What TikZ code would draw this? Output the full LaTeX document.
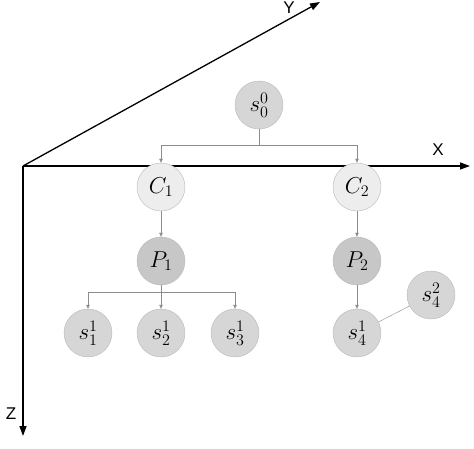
\RequirePackage{fix-cm}
\documentclass[tikz,border=0pt]{standalone}
\usepackage{amsmath, amssymb}
\usepackage{fontspec}
\newfontfamily\axisfont{Liberation Sans}
\usetikzlibrary{arrows.meta}

\begin{document}
\begin{tikzpicture}[x=1pt,y=-1pt,
    every node/.style={font=\fontsize{23}{25}\selectfont},
    vertex/.style={circle, draw=black!28, minimum size=48pt, inner sep=0pt},
    cnode/.style={vertex, fill=black!7},
    pnode/.style={vertex, fill=black!22},
    snode/.style={vertex, fill=black!16},
    axis/.style={-{Triangle[length=10pt,width=7pt]}, line width=1.3pt},
    axlabel/.style={font=\axisfont\fontsize{17}{19}\selectfont},
    link/.style={draw=black!45, -{Triangle[length=4pt,width=3.5pt]}}]
    % Frame
    \useasboundingbox (0,0) rectangle (474,449);

    % Axes
    \coordinate (O) at (23,166);
    \coordinate (Xend) at (470,166);
    \coordinate (Yend) at (320,2);
    \coordinate (Zend) at (23,436);
    \draw[axis] (O) -- (Xend);
    \draw[axis] (O) -- (Yend);
    \draw[axis] (O) -- (Zend);
    \node[axlabel] (xlab) at (438,150) {X};
    \node[axlabel] (ylab) at (289,8) {Y};
    \node[axlabel] (zlab) at (11,414) {Z};

    % Tree nodes
    \node[snode] (s0) at (259,105) {$s_0^0$};
    \node[cnode] (C1) at (161,187) {$C_1$};
    \node[cnode] (C2) at (357,187) {$C_2$};
    \node[pnode] (P1) at (161,261) {$P_1$};
    \node[pnode] (P2) at (357,261) {$P_2$};
    \node[snode] (s11) at (88,333) {$s_1^1$};
    \node[snode] (s21) at (161,333) {$s_2^1$};
    \node[snode] (s31) at (235,333) {$s_3^1$};
    \node[snode] (s41) at (357,333) {$s_4^1$};
    \node[snode] (s42) at (431,295) {$s_4^2$};

    % Links
    \draw[link] (s0.south) -- ++(0,16) -| (C1.north);
    \draw[link] (s0.south) -- ++(0,16) -| (C2.north);
    \draw[link] (C1) -- (P1);
    \draw[link] (C2) -- (P2);
    \draw[link] (P1.south) -- ++(0,7) -| (s11.north);
    \draw[link] (P1) -- (s21);
    \draw[link] (P1.south) -- ++(0,7) -| (s31.north);
    \draw[link] (P2) -- (s41);
    \draw[draw=black!45] (s41) -- (s42);
\end{tikzpicture}
\end{document}
